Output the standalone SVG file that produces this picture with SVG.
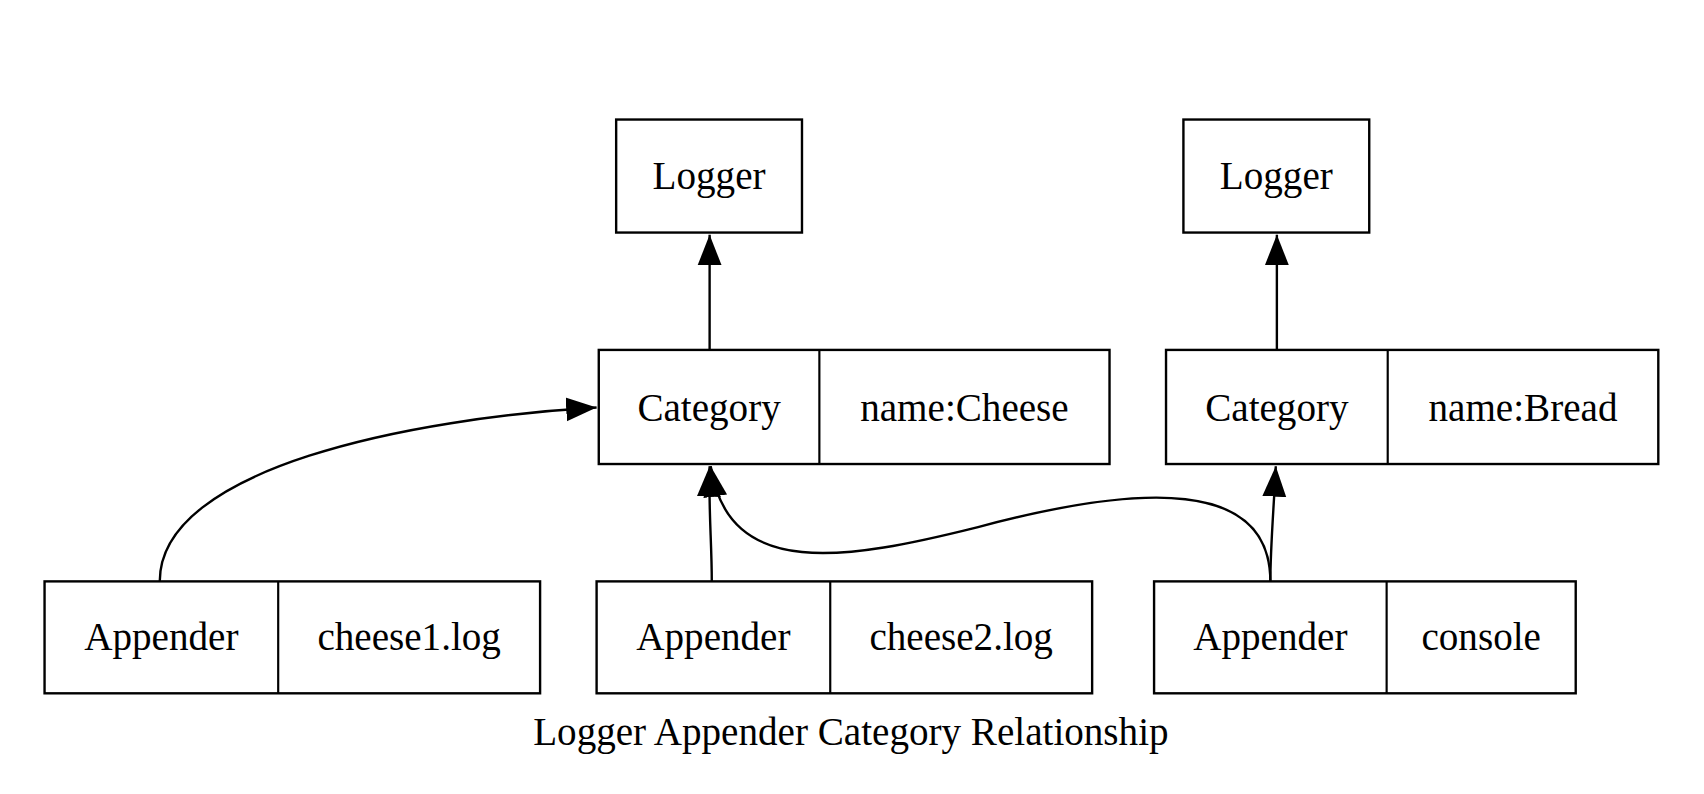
<svg xmlns="http://www.w3.org/2000/svg" width="1704" height="794" viewBox="0 0 1704 794">
<defs>
<style>
.b{fill:#fff;stroke:#000;stroke-width:2.2}
.d{stroke:#000;stroke-width:2}
.t{font-family:"Liberation Serif",serif;font-size:36px;text-anchor:middle;fill:#000}
.e{fill:none;stroke:#000;stroke-width:2.2;marker-end:url(#a)}
</style>
<marker id="a" markerUnits="userSpaceOnUse" markerWidth="30" markerHeight="24" refX="28" refY="11" orient="auto" viewBox="0 0 30 22">
<path d="M0,0 L28,11 L0,22 Z" fill="#000"/>
</marker>
</defs>
<rect width="1704" height="794" fill="#fff"/>
<g transform="scale(1.0867)">
<g id="edges">
<path class="e" d="M653,322 L653,216"/>
<path class="e" d="M1175,322 L1175,216"/>
<path class="e" d="M147,535 C147,430 380,385 549,375"/>
<path class="e" d="M655,535 C655,500 652,470 653,429"/>
<path class="e" d="M1169,535 C1169,505 1172,470 1174,429"/>
<path class="e" d="M1169,535 C1169,440 1050,445 900,485 C780,515 670,535 654,429"/>
</g>
<g id="logger1"><rect class="b" x="567" y="110" width="171" height="104"/><text class="t" x="652.5" y="174">Logger</text></g>
<g id="logger2"><rect class="b" x="1089" y="110" width="171" height="104"/><text class="t" x="1174.5" y="174">Logger</text></g>
<g id="cat1"><rect class="b" x="551" y="322" width="470" height="105"/><line class="d" x1="754" y1="322" x2="754" y2="427"/><text class="t" x="652.5" y="387">Category</text><text class="t" x="887.5" y="387">name:Cheese</text></g>
<g id="cat2"><rect class="b" x="1073" y="322" width="453" height="105"/><line class="d" x1="1277" y1="322" x2="1277" y2="427"/><text class="t" x="1175" y="387">Category</text><text class="t" x="1401.5" y="387">name:Bread</text></g>
<g id="app1"><rect class="b" x="41" y="535" width="456" height="103"/><line class="d" x1="256" y1="535" x2="256" y2="638"/><text class="t" x="148.5" y="598">Appender</text><text class="t" x="376.5" y="598">cheese1.log</text></g>
<g id="app2"><rect class="b" x="549" y="535" width="456" height="103"/><line class="d" x1="764" y1="535" x2="764" y2="638"/><text class="t" x="656.5" y="598">Appender</text><text class="t" x="884.5" y="598">cheese2.log</text></g>
<g id="app3"><rect class="b" x="1062" y="535" width="388" height="103"/><line class="d" x1="1276" y1="535" x2="1276" y2="638"/><text class="t" x="1169" y="598">Appender</text><text class="t" x="1363" y="598">console</text></g>
<text class="t" x="783" y="686">Logger Appender Category Relationship</text>
</g>
</svg>
